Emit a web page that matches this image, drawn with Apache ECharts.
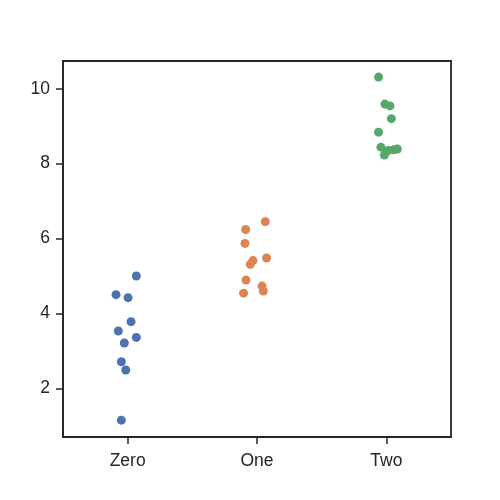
<!DOCTYPE html>
<html>
<head>
<meta charset="utf-8">
<script src="https://cdn.jsdelivr.net/npm/echarts@6/dist/echarts.min.js"></script>
<style>
  html, body { margin: 0; padding: 0; background: #fff; }
  #main { width: 500px; height: 500px; }
</style>
</head>
<body>
<div id="main"></div>
<script>
// categories and tick labels
const categories = ["Zero", "One", "Two"];
const yTicks = [2, 4, 6, 8, 10];

// jittered x positions (category index + jitter) and values
const zeroX = [0.067, -0.090, 0.003, 0.026, -0.072, 0.067, -0.026, -0.049, -0.015, -0.049];
const zeroY = [5.00, 4.50, 4.42, 3.78, 3.53, 3.36, 3.21, 2.71, 2.49, 1.15];
const oneX = [1.064, 0.912, 0.907, 0.969, 0.948, 1.074, 0.915, 1.039, 1.049, 0.896];
const oneY = [6.45, 6.24, 5.87, 5.41, 5.31, 5.48, 4.89, 4.73, 4.60, 4.54];
const twoX = [1.940, 1.989, 2.028, 2.039, 1.940, 1.958, 1.985, 2.015, 2.085, 2.059];
const twoY = [10.31, 9.59, 9.54, 9.20, 8.84, 8.44, 8.23, 8.35, 8.39, 8.37];

const colors = ["#4c72b0", "#dd8452", "#55a868"];

function pairs(xs, ys) {
  return xs.map((x, i) => [x, ys[i]]);
}

const myChart = echarts.init(document.getElementById("main"));

const axisColor = "#262626";
const labelFont = {
  color: axisColor,
  fontSize: 17.5,
  fontFamily: "Liberation Sans, Arial, sans-serif",
};

const options = {
  animation: false,
  grid: {
    left: 63,
    right: 49,
    top: 61,
    bottom: 63,
    show: true,
    borderColor: axisColor,
    borderWidth: 1.8,
    backgroundColor: "transparent",
  },
  xAxis: {
    type: "value",
    min: -0.5,
    max: 2.5,
    axisLine: { show: true, onZero: false, lineStyle: { color: axisColor, width: 1.8 } },
    axisTick: {
      show: true,
      length: 7,
      customValues: [0, 1, 2],
      lineStyle: { color: axisColor, width: 1.5 },
    },
    axisLabel: {
      ...labelFont,
      margin: 15,
      customValues: [0, 1, 2],
      formatter: (v) => categories[Math.round(v)],
    },
    splitLine: { show: false },
  },
  yAxis: {
    type: "value",
    min: 0.7,
    max: 10.74,
    axisLine: { show: true, onZero: false, lineStyle: { color: axisColor, width: 1.8 } },
    axisTick: {
      show: true,
      length: 7,
      customValues: yTicks,
      lineStyle: { color: axisColor, width: 1.5 },
    },
    axisLabel: {
      ...labelFont,
      margin: 13,
      customValues: yTicks,
      formatter: (v) => String(v),
    },
    splitLine: { show: false },
  },
  series: [
    { type: "scatter", name: "Zero", data: pairs(zeroX, zeroY), symbolSize: 9, itemStyle: { color: colors[0], opacity: 1 } },
    { type: "scatter", name: "One", data: pairs(oneX, oneY), symbolSize: 9, itemStyle: { color: colors[1], opacity: 1 } },
    { type: "scatter", name: "Two", data: pairs(twoX, twoY), symbolSize: 9, itemStyle: { color: colors[2], opacity: 1 } },
  ],
};

myChart.setOption(options);
</script>
</body>
</html>
